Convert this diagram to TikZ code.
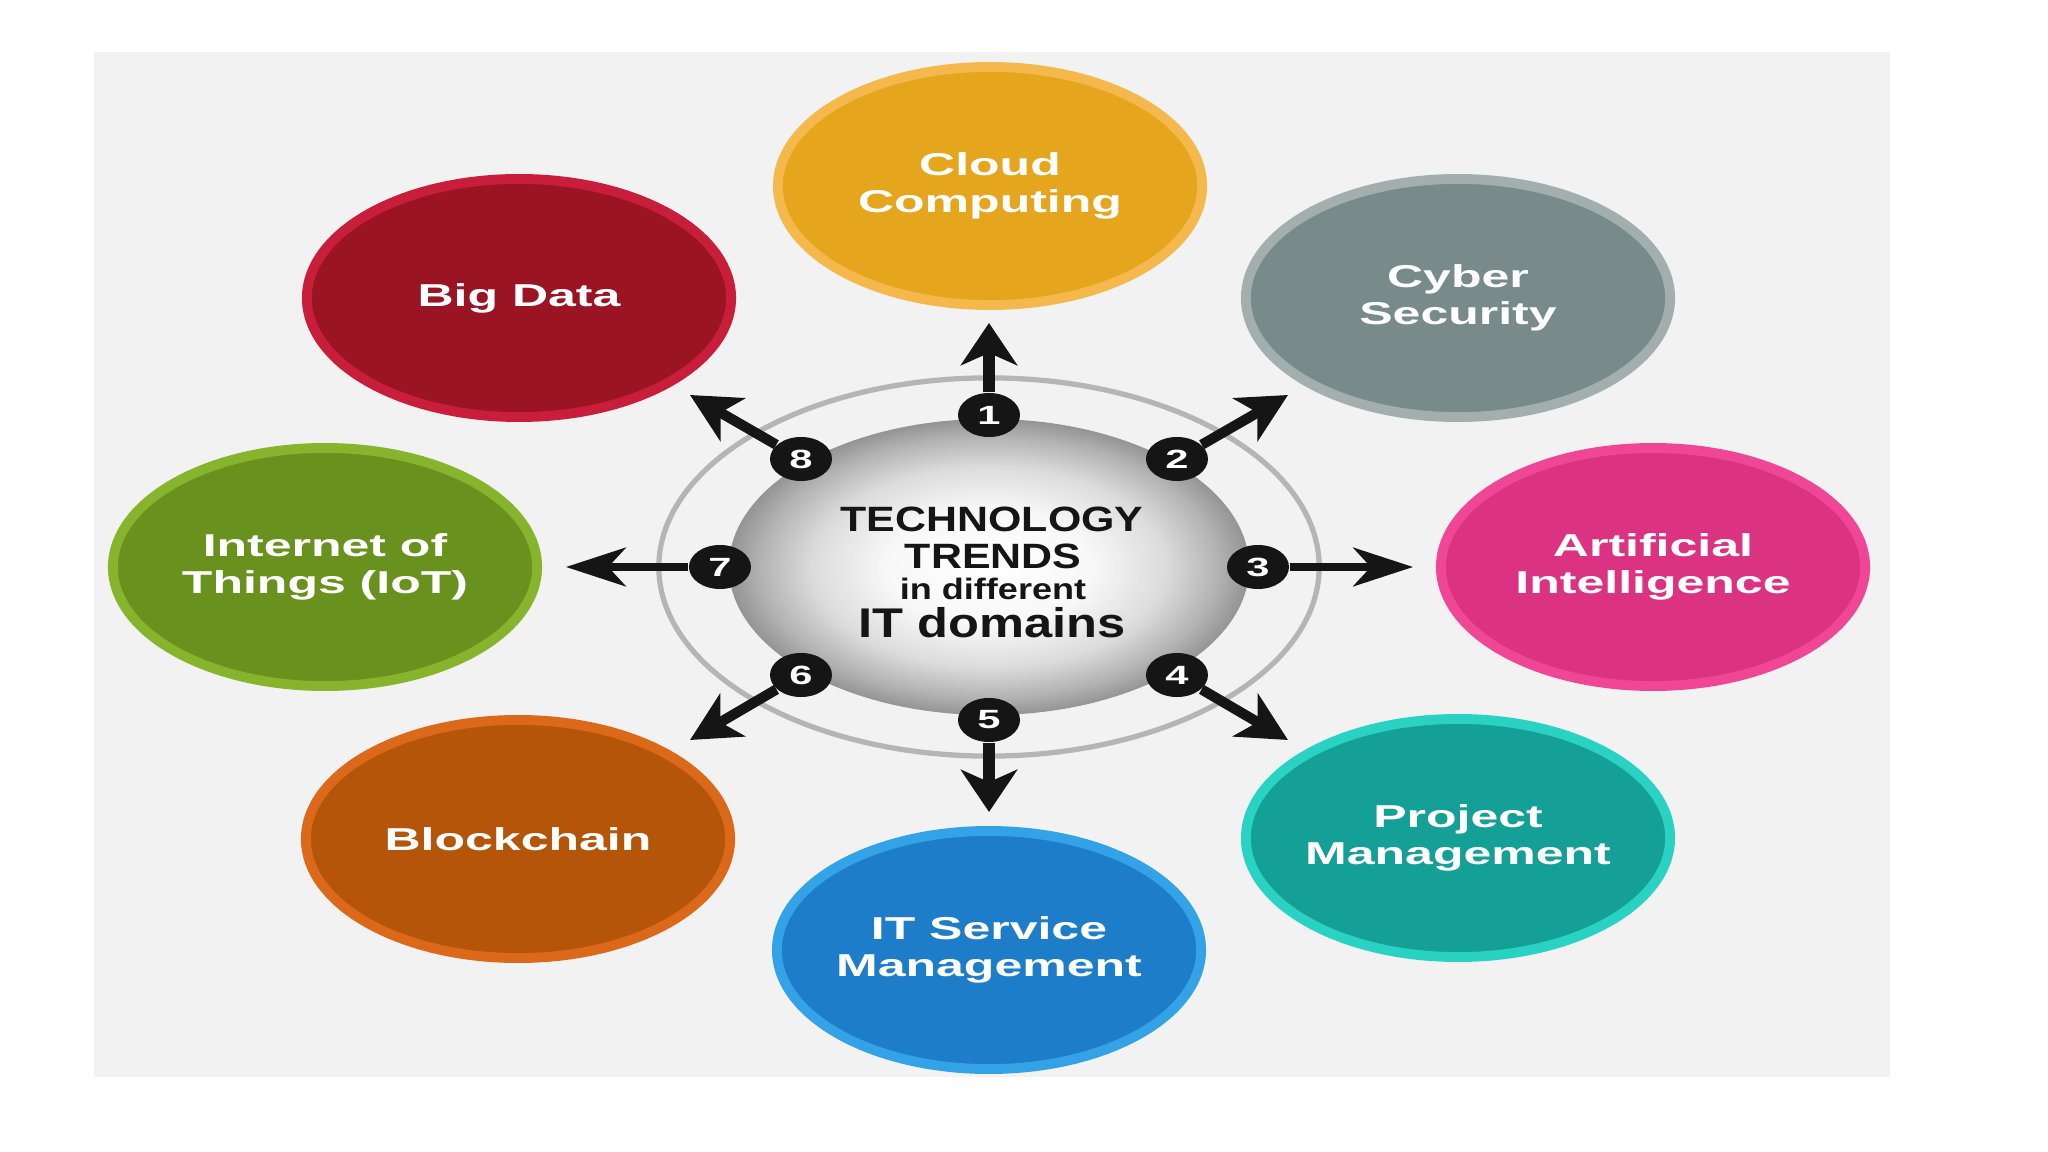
\documentclass[tikz,border=0pt]{standalone}
\usepackage{fontspec}
\usetikzlibrary{shapes.geometric,arrows.meta}
\newfontfamily\lblfont[FakeStretch=1.58]{Liberation Sans}
\newfontfamily\ctrfont[FakeStretch=1.22]{Liberation Sans}
\definecolor{bggray}{HTML}{F2F2F2}
\definecolor{ringgray}{HTML}{B5B5B5}
\definecolor{cloudin}{HTML}{E5A61E}\definecolor{cloudout}{HTML}{F4B84C}
\definecolor{bigin}{HTML}{9B1423}\definecolor{bigout}{HTML}{C81E3C}
\definecolor{cyberin}{HTML}{788A8A}\definecolor{cyberout}{HTML}{A3AEAE}
\definecolor{iotin}{HTML}{69911E}\definecolor{iotout}{HTML}{87B42D}
\definecolor{aiin}{HTML}{DC3282}\definecolor{aiout}{HTML}{F04696}
\definecolor{blockin}{HTML}{B4550A}\definecolor{blockout}{HTML}{DC6919}
\definecolor{projin}{HTML}{14A096}\definecolor{projout}{HTML}{2AD2C4}
\definecolor{itsin}{HTML}{1E7DC8}\definecolor{itsout}{HTML}{34A2E6}
\definecolor{inkblack}{HTML}{151515}
\pgfdeclareradialshading{spheregrad}{\pgfpoint{0bp}{0bp}}{color(0bp)=(white); color(10bp)=(white!97!black); color(17bp)=(white!86!black); color(22bp)=(white!70!black); color(25bp)=(white!58!black); color(50bp)=(white!58!black)}
\tikzset{
  bubble/.style={ellipse, minimum width=4.24cm, minimum height=2.38cm, line width=2.8pt,
    inner xsep=-20pt, inner ysep=0pt, align=center, text=white,
    font=\lblfont\bfseries\fontsize{9}{10.4}\selectfont},
  badge/.style={ellipse, fill=inkblack, minimum width=0.62cm, minimum height=0.44cm,
    inner sep=0pt, text=white, font=\lblfont\bfseries\fontsize{7.5}{8}\selectfont},
  ctrtext/.style={anchor=base, inner sep=0pt, text=inkblack},
  vtip/.style={draw=inkblack, line width=3.4pt, -{Stealth[length=12pt,width=16pt,inset=3.5pt]}},
  htip/.style={draw=inkblack, line width=2.1pt, -{Stealth[length=17pt,width=11pt,inset=5pt]}},
  dtip/.style={draw=inkblack, line width=2.9pt, -{Stealth[length=14pt,width=14pt,inset=4pt]}}
}
\begin{document}
\begin{tikzpicture}[x=0.01cm,y=-0.01cm]
\useasboundingbox (0,0) rectangle (2048,1152);
\fill[white] (0,0) rectangle (2048,1152);
\fill[bggray] (94,52) rectangle (1890,1077);

% outer circles
\node[bubble, fill=cloudin, draw=cloudout] (cloud) at (990,186) {Cloud\\Computing};
\node[bubble, fill=bigin, draw=bigout] (big) at (519,298) {Big Data};
\node[bubble, fill=cyberin, draw=cyberout] (cyber) at (1458,298) {Cyber\\Security};
\node[bubble, fill=iotin, draw=iotout] (iot) at (325,567) {Internet of\\Things (IoT)};
\node[bubble, fill=aiin, draw=aiout] (ai) at (1653,567) {Artificial\\Intelligence};
\node[bubble, fill=blockin, draw=blockout] (block) at (518,839) {Blockchain};
\node[bubble, fill=projin, draw=projout] (proj) at (1458,838) {Project\\Management};
\node[bubble, fill=itsin, draw=itsout] (its) at (989,950) {IT Service\\Management};

% hub
\node[ellipse, draw=ringgray, line width=1.5pt, minimum width=6.6cm, minimum height=3.78cm] (ring) at (989,567) {};
\node[ellipse, shading=spheregrad, minimum width=5.2cm, minimum height=2.96cm] (sphere) at (989,567) {};

\node[ctrtext, font=\ctrfont\bfseries\fontsize{10}{12}\selectfont] (l1) at (992,532) {TECHNOLOGY};
\node[ctrtext, font=\ctrfont\bfseries\fontsize{10}{12}\selectfont] (l2) at (993,568) {TRENDS};
\node[ctrtext, font=\ctrfont\bfseries\fontsize{8.4}{10}\selectfont] (l3) at (993,600) {in different};
\node[ctrtext, font=\ctrfont\bfseries\fontsize{11.8}{14}\selectfont] (l4) at (992,637) {IT domains};

% badges
\node[badge] (b1) at (989,415) {1};
\node[badge] (b2) at (1177,459) {2};
\node[badge] (b3) at (1258,567) {3};
\node[badge] (b4) at (1177,675) {4};
\node[badge] (b5) at (989,720) {5};
\node[badge] (b6) at (801,675) {6};
\node[badge] (b7) at (720,567) {7};
\node[badge] (b8) at (801,459) {8};

% arrow tips
\coordinate (t1) at (989,323);
\coordinate (t2) at (1288,395);
\coordinate (t3) at (1413,567);
\coordinate (t4) at (1288,740);
\coordinate (t5) at (989,812);
\coordinate (t6) at (690,740);
\coordinate (t7) at (566,567);
\coordinate (t8) at (690,395);

\draw[vtip] (b1) -- (t1);
\draw[dtip] (b2) -- (t2);
\draw[htip] (b3) -- (t3);
\draw[dtip] (b4) -- (t4);
\draw[vtip] (b5) -- (t5);
\draw[dtip] (b6) -- (t6);
\draw[htip] (b7) -- (t7);
\draw[dtip] (b8) -- (t8);
\end{tikzpicture}
\end{document}
